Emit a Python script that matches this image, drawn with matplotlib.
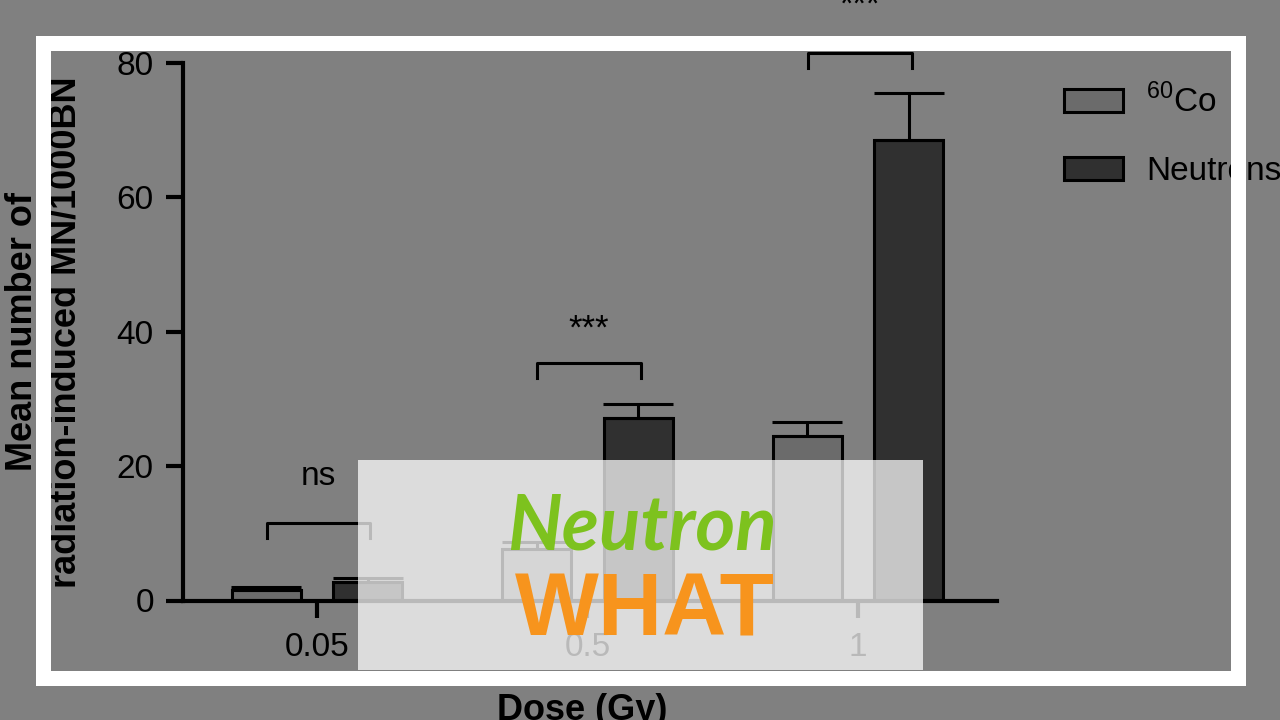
import numpy as np
import matplotlib
matplotlib.use('Agg')
import matplotlib.pyplot as plt
from matplotlib.patches import Rectangle

plt.rcParams['font.family'] = ['Liberation Sans', 'DejaVu Sans']
plt.rcParams['mathtext.fontset'] = 'custom'
plt.rcParams['mathtext.rm'] = 'Liberation Sans'

# data
doses = ['0.05', '0.5', '1']
co_mean = [1.6, 7.7, 24.5]
co_err = [0.4, 1.0, 2.0]
neu_mean = [2.7, 27.1, 68.5]
neu_err = [0.7, 2.1, 7.1]
sig_labels = ['ns', '***', '***']
bracket_y = [11.6, 35.4, 81.5]
sig_text_y = [17.2, 39.0, 87.2]

fig = plt.figure(figsize=(12.8, 7.2), dpi=100, facecolor='#808080')
ax = fig.add_axes([183 / 1280, (720 - 600.5) / 720, (997 - 183) / 1280, (600.5 - 63) / 720])
ax.set_facecolor('none')

x = np.arange(len(doses))
off = 0.188
w = 0.255
zeros = [0] * len(doses)
ekw = dict(ecolor='black', elinewidth=2.2, capsize=25, capthick=2.2)
ax.bar(x - off, co_mean, w, yerr=[zeros, co_err], color='#6b6b6b',
       edgecolor='black', linewidth=2.2, error_kw=ekw, label=r'$^{60}$Co')
ax.bar(x + off, neu_mean, w, yerr=[zeros, neu_err], color='#303030',
       edgecolor='black', linewidth=2.2, error_kw=ekw, label='Neutrons')

# significance brackets
for i in range(len(doses)):
    y = bracket_y[i]
    ax.plot([i - 0.186, i - 0.186, i + 0.198, i + 0.198], [y - 2.3, y, y, y - 2.3],
            color='black', lw=2.2, clip_on=False)
    ax.text(i + 0.005, sig_text_y[i], sig_labels[i], ha='center', va='baseline',
            fontsize=25 if sig_labels[i] != 'ns' else 24, clip_on=False)

ax.set_xlim(-0.495, 2.514)
ax.set_ylim(0, 80)
ax.set_xticks(x)
ax.set_xticklabels(doses)
ax.set_yticks([0, 20, 40, 60, 80])
for s in ['top', 'right']:
    ax.spines[s].set_visible(False)
for s in ['left', 'bottom']:
    ax.spines[s].set_linewidth(3)
ax.tick_params(axis='both', length=12, width=3, labelsize=24)
ax.tick_params(axis='x', pad=11)
ax.tick_params(axis='y', pad=9)

ax.set_ylabel('Mean number of\nradiation-induced MN/1000BN', fontsize=26,
              fontweight='bold', labelpad=24, linespacing=1.3)
ax.set_xlabel('Dose (Gy)', fontsize=26, fontweight='bold', labelpad=21)
ax.xaxis.label.set_x(0.49)

ax.legend(loc='upper left', bbox_to_anchor=(1064 / 1280, (720 - 84) / 720),
          bbox_transform=fig.transFigure, frameon=False, fontsize=24,
          handlelength=1.78, handleheight=0.7, handletextpad=0.68,
          labelspacing=1.1, borderpad=0, borderaxespad=0)

# white frame and the watermark box on top
fig.add_artist(Rectangle((42.5 / 1280, 42.5 / 720), 1195 / 1280, 635 / 720,
                         transform=fig.transFigure, fill=False, edgecolor='white',
                         linewidth=10.8, joinstyle='miter', zorder=5))
fig.add_artist(Rectangle((358 / 1280, 50 / 720), 565 / 1280, 210 / 720,
                         transform=fig.transFigure, facecolor='white', alpha=0.73,
                         edgecolor='none', zorder=6))
fig.text(642 / 1280, (720 - 549) / 720, 'Neutron', color='#7dc21e', fontsize=55,
         family=['Lato', 'DejaVu Sans'], style='italic', weight='bold',
         ha='center', va='baseline', zorder=7)
fig.text(645 / 1280, (720 - 635) / 720, 'WHAT', color='#f7941d', fontsize=64,
         weight='bold', ha='center', va='baseline', zorder=7)

fig.savefig('out.png', dpi=100, facecolor=fig.get_facecolor())
